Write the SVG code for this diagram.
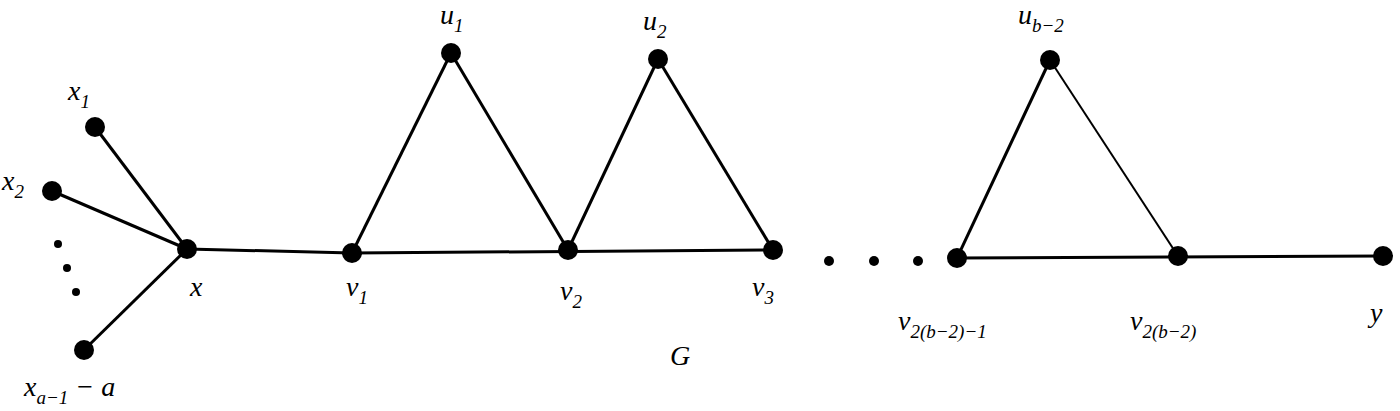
<svg xmlns="http://www.w3.org/2000/svg" width="1400" height="411" viewBox="0 0 1400 411">
<style>
.e{stroke:#000;stroke-width:3;fill:none}
.n{fill:#000}
text{font-family:"Liberation Serif",serif;font-style:italic;font-size:28px;fill:#000}
.s{font-size:19px}
</style>
<rect width="1400" height="411" fill="#fff"/>
<g id="edges">
<line class="e" x1="95" y1="127" x2="187" y2="249"/>
<line class="e" x1="52" y1="191" x2="187" y2="249"/>
<line class="e" x1="84" y1="350" x2="187" y2="249"/>
<line class="e" x1="187" y1="249" x2="352" y2="253"/>
<line class="e" x1="352" y1="253" x2="773" y2="250"/>
<line class="e" x1="352" y1="253" x2="451" y2="53"/>
<line class="e" x1="451" y1="53" x2="568" y2="250"/>
<line class="e" x1="568" y1="250" x2="658" y2="59"/>
<line class="e" x1="658" y1="59" x2="773" y2="250"/>
<line class="e" x1="957" y1="258" x2="1383" y2="256"/>
<line class="e" x1="957" y1="258" x2="1050" y2="60"/>
<line class="e" x1="1050" y1="60" x2="1178" y2="256" style="stroke-width:2"/>
</g>
<g id="x1"><circle class="n" cx="95" cy="127" r="10"/><text x="68" y="100">x<tspan class="s" dy="8">1</tspan></text></g>
<g id="x2"><circle class="n" cx="52" cy="191" r="10"/><text x="2" y="190">x<tspan class="s" dy="8">2</tspan></text></g>
<g id="xa"><circle class="n" cx="84" cy="350" r="10"/><text x="24" y="396">x<tspan class="s" dy="8">a−1</tspan><tspan dy="-8"> − a</tspan></text></g>
<g id="x"><circle class="n" cx="187" cy="249" r="10"/><text x="190" y="296">x</text></g>
<g id="v1"><circle class="n" cx="352" cy="253" r="10"/><text x="346" y="296">v<tspan class="s" dy="8">1</tspan></text></g>
<g id="u1"><circle class="n" cx="451" cy="53" r="10"/><text x="440" y="24">u<tspan class="s" dy="8">1</tspan></text></g>
<g id="v2"><circle class="n" cx="568" cy="250" r="10"/><text x="560" y="300">v<tspan class="s" dy="8">2</tspan></text></g>
<g id="u2"><circle class="n" cx="658" cy="59" r="10"/><text x="643" y="30">u<tspan class="s" dy="8">2</tspan></text></g>
<g id="v3"><circle class="n" cx="773" cy="250" r="10"/><text x="752" y="296">v<tspan class="s" dy="8">3</tspan></text></g>
<g id="dots"><circle class="n" cx="829" cy="261" r="5"/><circle class="n" cx="874" cy="261" r="5"/><circle class="n" cx="918" cy="261" r="5"/>
<circle class="n" cx="58" cy="244" r="4"/><circle class="n" cx="67" cy="268" r="4"/><circle class="n" cx="76" cy="292" r="4"/></g>
<g id="vb1"><circle class="n" cx="957" cy="258" r="10"/><text x="898" y="330">v<tspan class="s" dy="8">2(b−2)−1</tspan></text></g>
<g id="ub"><circle class="n" cx="1050" cy="60" r="10"/><text x="1018" y="24">u<tspan class="s" dy="8">b−2</tspan></text></g>
<g id="vb2"><circle class="n" cx="1178" cy="256" r="10"/><text x="1130" y="330">v<tspan class="s" dy="8">2(b−2)</tspan></text></g>
<g id="y"><circle class="n" cx="1383" cy="256" r="10"/><text x="1370" y="322">y</text></g>
<text x="670" y="365">G</text>
</svg>
